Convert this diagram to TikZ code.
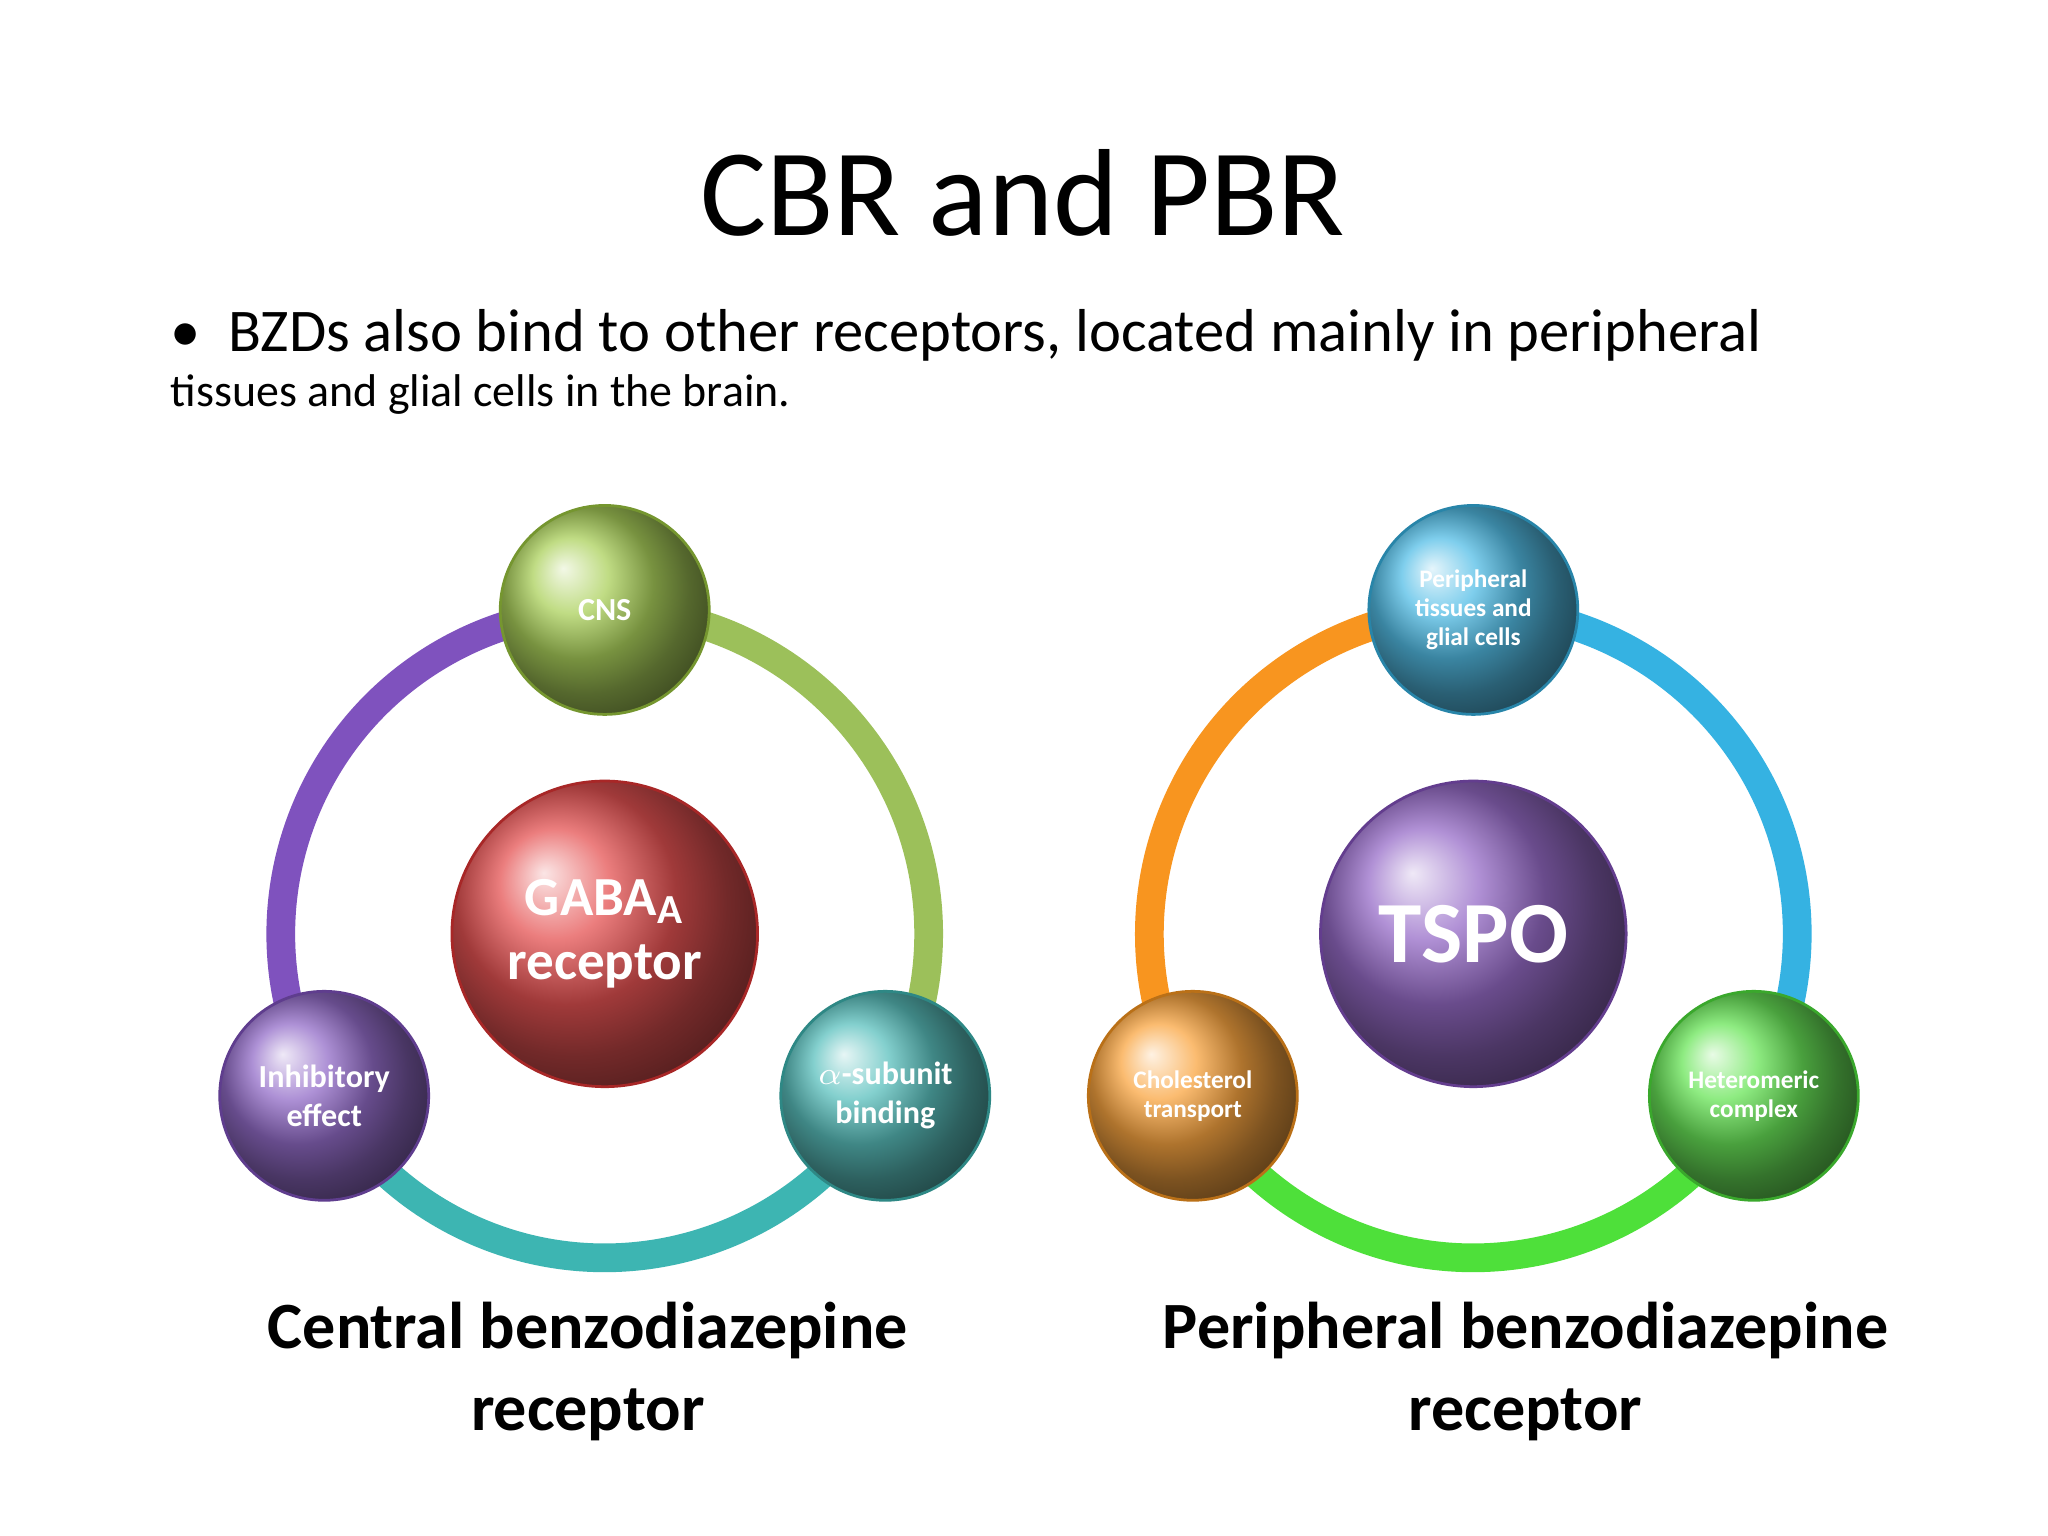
\documentclass[tikz,border=0pt]{standalone}
\usepackage{fontspec}
\setmainfont{Carlito}
\usepackage{xcolor}
\usepackage{tikz}
\usetikzlibrary{positioning,calc}

\definecolor{cnsgreen}{HTML}{9CC83E}
\definecolor{ringgreen}{HTML}{9CC05A}
\definecolor{alphateal}{HTML}{3DB5B2}
\definecolor{inhpurple}{HTML}{7F52BE}
\definecolor{gabared}{HTML}{E03434}
\definecolor{periblue}{HTML}{35B2E2}
\definecolor{cholorange}{HTML}{F8951F}
\definecolor{hetgreen}{HTML}{4EE03A}
\definecolor{tspopurple}{HTML}{8452BE}

\tikzset{
    ball/.style={circle,minimum size=1.6cm,inner sep=0pt,align=center,text=white,
        font=\bfseries\fontsize{7}{8.5}\selectfont,draw=#1!75!black,line width=0.6pt,ball color=#1!85!white},
    core/.style={ball=#1,minimum size=2.34cm,font=\bfseries\fontsize{12}{14}\selectfont},
    ring/.style={line width=0.22cm,draw=#1}
}

\begin{document}
\begin{tikzpicture}[x=1cm,y=1cm]
    \useasboundingbox[fill=white] (0,0) rectangle (15.68,11.76);
    % heading and bullet
    \node (title) at (7.83,10.28) {\fontsize{27}{30}\selectfont CBR and PBR};
    \node[anchor=north west,align=left,inner sep=0pt] (bullet) at (1.30,9.40)
        {\fontsize{13.2}{18.2}\selectfont \textbullet\ \ BZDs also bind to other receptors, located mainly in peripheral\\tissues and glial cells in the brain.};
    % left ring
    \coordinate (cL) at (4.63,4.61);
    \draw[ring=ringgreen]  (cL) ++(90:2.48) arc (90:-30:2.48);
    \draw[ring=alphateal]  (cL) ++(-30:2.48) arc (-30:-150:2.48);
    \draw[ring=inhpurple]  (cL) ++(210:2.48) arc (210:90:2.48);
    \node[core=gabared] (gaba) at (cL) {GABA\textsubscript{\fontsize{9}{9}\selectfont A}\\receptor};
    \node[ball=cnsgreen] (cns) at ($(cL)+(90:2.48)$) {CNS};
    \node[ball=alphateal] (alpha) at ($(cL)+(-30:2.48)$) {$\alpha$-subunit\\binding};
    \node[ball=inhpurple] (inh) at ($(cL)+(210:2.48)$) {Inhibitory\\effect};
    \node[font=\bfseries\fontsize{14.4}{18}\selectfont,align=center] (capL) at (4.50,1.26)
        {Central benzodiazepine\\receptor};
    % right ring
    \coordinate (cR) at (11.28,4.61);
    \draw[ring=periblue]   (cR) ++(90:2.48) arc (90:-30:2.48);
    \draw[ring=hetgreen]   (cR) ++(-30:2.48) arc (-30:-150:2.48);
    \draw[ring=cholorange] (cR) ++(210:2.48) arc (210:90:2.48);
    \node[core=tspopurple,font=\bfseries\fontsize{19}{20}\selectfont] (tspo) at (cR) {TSPO};
    \node[ball=periblue,font=\bfseries\fontsize{5.5}{6.3}\selectfont] (peri) at ($(cR)+(90:2.48)$) {Peripheral\\tissues and\\glial cells};
    \node[ball=hetgreen,font=\bfseries\fontsize{5.5}{6.3}\selectfont] (het) at ($(cR)+(-30:2.48)$) {Heteromeric\\complex};
    \node[ball=cholorange,font=\bfseries\fontsize{5.5}{6.3}\selectfont] (chol) at ($(cR)+(210:2.48)$) {Cholesterol\\transport};
    \node[font=\bfseries\fontsize{14.4}{18}\selectfont,align=center] (capR) at (11.68,1.26)
        {Peripheral benzodiazepine\\receptor};
\end{tikzpicture}
\end{document}
